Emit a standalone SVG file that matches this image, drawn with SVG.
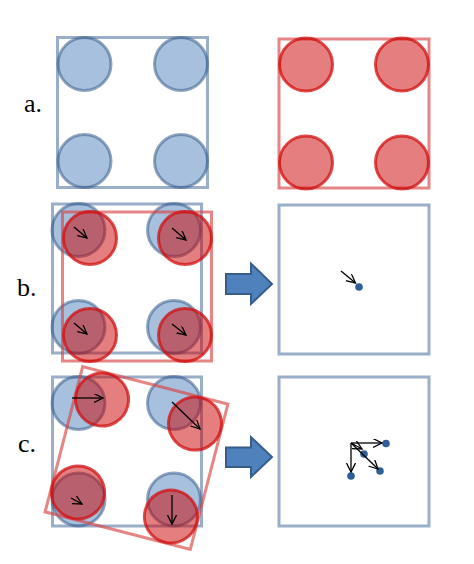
<svg xmlns="http://www.w3.org/2000/svg" width="474" height="564" viewBox="0 0 474 564">
<defs>
<style>
.lbl{font-family:"Liberation Serif","Times New Roman",serif;font-size:26px;fill:#000}
.bsq{fill:none;stroke:#8199bb;stroke-opacity:0.8;stroke-width:3}
.rsq{fill:none;stroke:#d94444;stroke-opacity:0.65;stroke-width:3}
.bc{fill:#4f81bd;fill-opacity:0.5;stroke:#385d8a;stroke-opacity:0.55;stroke-width:3}
.rc{fill:#cc0000;fill-opacity:0.5;stroke:#d01010;stroke-opacity:0.75;stroke-width:3}
.dot{fill:#2f5f9a}
.vec{stroke:#000;stroke-width:1.3;fill:none;marker-end:url(#ah)}
.big{fill:#4f81bd;stroke:#385d8a;stroke-width:2}
</style>
<marker id="ah" markerWidth="12" markerHeight="12" refX="9" refY="4.5" orient="auto" markerUnits="userSpaceOnUse">
<path d="M0,0 L9,4.5 L0,9" fill="none" stroke="#000" stroke-width="1.3"/>
</marker>
</defs>
<rect width="474" height="564" fill="#fff"/>

<g id="labels">
<text class="lbl" x="24" y="112">a.</text>
<text class="lbl" x="17" y="296">b.</text>
<text class="lbl" x="18" y="452">c.</text>
</g>

<g id="a-blue">
<rect class="bsq" x="57.5" y="37.5" width="150" height="150"/>
<circle class="bc" cx="84.5" cy="64" r="26.5"/>
<circle class="bc" cx="181" cy="64" r="26.5"/>
<circle class="bc" cx="84.5" cy="161" r="26.5"/>
<circle class="bc" cx="181" cy="161" r="26.5"/>
</g>

<g id="a-red">
<rect class="rsq" x="279" y="39" width="150" height="149"/>
<circle class="rc" cx="306" cy="64.5" r="26.5"/>
<circle class="rc" cx="402" cy="64.5" r="26.5"/>
<circle class="rc" cx="306" cy="162.5" r="26.5"/>
<circle class="rc" cx="402" cy="162.5" r="26.5"/>
</g>

<g id="b-overlay">
<rect class="bsq" x="52.5" y="204" width="149" height="149"/>
<circle class="bc" cx="78.5" cy="230" r="26.5"/>
<circle class="bc" cx="174" cy="230" r="26.5"/>
<circle class="bc" cx="78.5" cy="327" r="26.5"/>
<circle class="bc" cx="174" cy="327" r="26.5"/>
<rect class="rsq" x="62.5" y="212" width="149" height="149"/>
<circle class="rc" cx="90" cy="238" r="26.5"/>
<circle class="rc" cx="185" cy="238" r="26.5"/>
<circle class="rc" cx="90" cy="335" r="26.5"/>
<circle class="rc" cx="185" cy="335" r="26.5"/>
</g>

<g id="b-result">
<rect class="bsq" x="279" y="205" width="150" height="149"/>
<circle class="dot" cx="359" cy="287" r="3.8"/>
</g>

<g id="c-overlay">
<rect class="bsq" x="52.5" y="377" width="149" height="149"/>
<circle class="bc" cx="78.5" cy="403" r="26.5"/>
<circle class="bc" cx="174" cy="403" r="26.5"/>
<circle class="bc" cx="78.5" cy="499.5" r="26.5"/>
<circle class="bc" cx="174" cy="499.5" r="26.5"/>
<g transform="translate(136.5 458) rotate(14.5)">
<rect class="rsq" x="-75" y="-75" width="150" height="150"/>
<circle class="rc" cx="-48" cy="-48" r="26.5"/>
<circle class="rc" cx="48" cy="-48" r="26.5"/>
<circle class="rc" cx="-48" cy="48" r="26.5"/>
<circle class="rc" cx="48" cy="48" r="26.5"/>
</g>
</g>

<g id="c-result">
<rect class="bsq" x="279" y="377" width="150" height="149"/>
<circle class="dot" cx="386" cy="443.5" r="3.8"/>
<circle class="dot" cx="364" cy="454" r="3.8"/>
<circle class="dot" cx="380" cy="471" r="3.8"/>
<circle class="dot" cx="351" cy="476" r="3.8"/>
</g>

<g id="connectors">
<polygon class="big" points="226,274 251,274 251,263.5 272,284 251,304 251,294 226,294"/>
<polygon class="big" points="226,447.5 251,447.5 251,437 272,457 251,477 251,467 226,467"/>
<line class="vec" x1="74" y1="227" x2="87" y2="238"/>
<line class="vec" x1="172" y1="228" x2="186" y2="240"/>
<line class="vec" x1="74" y1="323" x2="87" y2="334"/>
<line class="vec" x1="172" y1="324" x2="186" y2="335"/>
<line class="vec" x1="341" y1="271" x2="355.5" y2="283"/>
<line class="vec" x1="72" y1="398" x2="103" y2="398"/>
<line class="vec" x1="172" y1="402" x2="200" y2="429"/>
<line class="vec" x1="71" y1="498" x2="82" y2="504"/>
<line class="vec" x1="172" y1="495" x2="172" y2="524"/>
<line class="vec" x1="351" y1="443" x2="382" y2="443"/>
<line class="vec" x1="351" y1="443" x2="378" y2="469"/>
<line class="vec" x1="351" y1="443" x2="362" y2="449"/>
<line class="vec" x1="351" y1="443" x2="351" y2="472"/>
</g>
</svg>
